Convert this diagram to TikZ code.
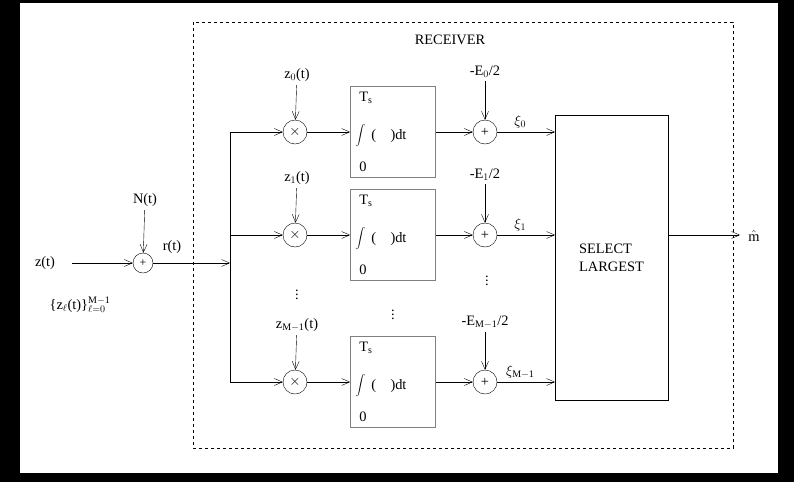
\documentclass[tikz,border=0pt]{standalone}
\usepackage{fontspec}
\setmainfont{Liberation Serif}
\usetikzlibrary{arrows.meta,positioning}
\tikzset{
  sig/.style={-{Straight Barb[length=8pt,width=7pt]}},
  junc/.style={circle,draw,inner sep=0pt,minimum size=22pt},
  intbox/.style={draw=gray,thick,minimum width=85pt,minimum height=91pt}
}
\begin{document}
\begin{tikzpicture}[x=1pt,y=-1pt,font=\Large]
        \fill[black] (0,0) rectangle (794,482);
        \fill[white] (20,3) rectangle (778,473);
        \useasboundingbox (0,0) rectangle (794,482);

        \draw[dashed] (193,22) rectangle (733,448);
        \node at (450,40) {RECEIVER};

        % input side
        \node (zt) at (45,263) {z(t)};
        \node at (80,305) {\{z$_\ell$(t)\}$_{\ell=0}^{\mathrm{M-1}}$};
        \node[junc,minimum size=20pt] (add) at (143,263) {\large +};
        \node (noise) at (145,200) {N(t)};
        \coordinate (zin) at (72,263);
        \coordinate (split) at (230,263);
        \draw[sig] (zin) -- (add);
        \draw[sig] (noise) -- (add);
        \draw[sig] (add) -- (split);
        \node at (172,247) {r(t)};
        \coordinate (top) at (230,132);
        \coordinate (bot) at (230,382);
        \draw (top) -- (bot);

        % branches
        \foreach \n/\y/\zl/\el/\xl in {0/132/{z$_0$(t)}/{-E$_0$/2}/{$\xi_0$},
                                      1/235/{z$_1$(t)}/{-E$_1$/2}/{$\xi_1$},
                                      2/382/{z$_{\mathrm{M-1}}$(t)}/{-E$_{\mathrm{M-1}}$/2}/{$\xi_{\mathrm{M-1}}$}}{
          \coordinate (tap\n) at (230,\y);
          \node[junc,minimum size=24pt] (mul\n) at (295,\y) {$\times$};
          \node (zsig\n) at (297,\y-57) {\zl};
          \node[intbox] (int\n) at (393,\y) {};
          \node[anchor=north west,inner sep=1pt] at ([shift={(8,5)}]int\n.north west) {T$_\mathrm{s}$};
          \node[anchor=west,inner sep=1pt] at ([shift={(4,4)}]int\n.west) {$\displaystyle\int$ \,(\quad)dt};
          \node[anchor=south west,inner sep=1pt] at ([shift={(8,-5)}]int\n.south west) {0};
          \node[junc,minimum size=24pt] (sum\n) at (485,\y) {+};
          \node (en\n) at (485,\y-60) {\el};
          \coordinate (sel\n) at (555,\y);
          \draw[sig] (tap\n) -- (mul\n);
          \draw[sig] (zsig\n) -- (mul\n);
          \draw[sig] (mul\n) -- (int\n);
          \draw[sig] (int\n) -- (sum\n);
          \draw[sig] (en\n) -- (sum\n);
          \draw[sig] (sum\n) -- node[above,pos=0.4] {\xl} (sel\n);
        }

        \node at (297,292) {$\vdots$};
        \node at (393,312) {$\vdots$};
        \node at (487,278) {$\vdots$};

        % decision
        \node[draw,minimum width=113pt,minimum height=285pt,align=left] (select) at (611.5,257.5) {SELECT\\LARGEST};
        \node (mhat) at (754,236) {$\hat{\mathrm{m}}$};
        \draw[sig] (select.east |- 0,235) -- (740,235);
\end{tikzpicture}
\end{document}
